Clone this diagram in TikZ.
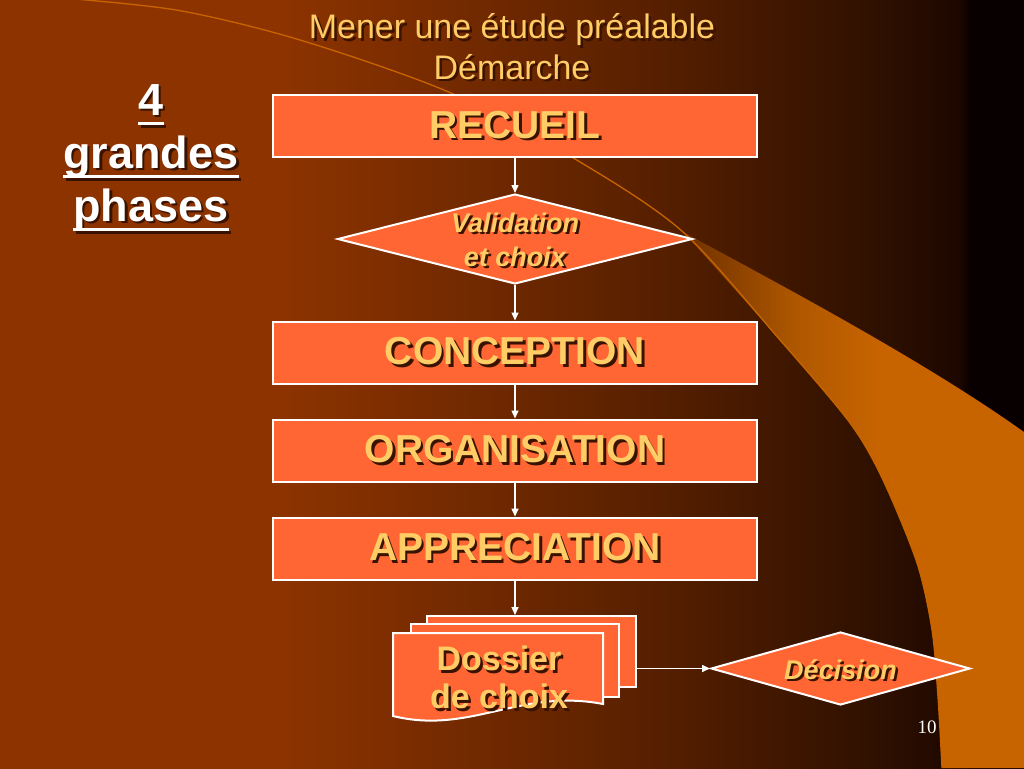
\documentclass[tikz,border=0pt]{standalone}
\usepackage{fontspec}
\setmainfont{Liberation Sans}
\newfontfamily\pagefont{Liberation Serif}
\usetikzlibrary{shapes.geometric,arrows.meta}
\definecolor{bgA}{HTML}{8C3300}
\definecolor{bgB}{HTML}{5E2200}
\definecolor{bgC}{HTML}{2E1000}
\definecolor{bgD}{HTML}{1E0700}
\definecolor{bgE}{HTML}{080000}
\definecolor{orA}{HTML}{6E3000}
\definecolor{orB}{HTML}{B05800}
\definecolor{orC}{HTML}{C86400}
\definecolor{boxfill}{HTML}{FF6633}
\definecolor{gold}{HTML}{FFCC66}
\definecolor{shadowc}{HTML}{3A1200}
\pgfdeclarehorizontalshading{bgshade}{100bp}{color(0bp)=(bgA); color(39bp)=(bgA); color(55bp)=(bgB); color(68bp)=(bgC); color(71.8bp)=(bgD); color(72.4bp)=(bgE); color(100bp)=(bgE)}
\pgfdeclarehorizontalshading{orshade}{100bp}{color(0bp)=(orA); color(25bp)=(orA); color(42bp)=(orB); color(54bp)=(orC); color(100bp)=(orC)}
\newcommand\shd[1]{\leavevmode\rlap{\kern2.5pt\raisebox{-2.5pt}{\textcolor{shadowc}{#1}}}#1}
\newcommand\ulx[1]{\setbox0\hbox{#1}\rlap{\raisebox{-10pt}{\rule{\wd0}{3pt}}}\box0}
\tikzset{
  phasebox/.style={draw=white, line width=2pt, fill=boxfill, minimum width=484pt, minimum height=62pt, inner sep=0pt, text=gold, font=\fontsize{39}{44}\selectfont\bfseries},
  decisionshape/.style={diamond, draw=white, line width=2pt, fill=boxfill, inner sep=0pt},
  dtext/.style={text=gold, align=center, inner sep=0pt, font=\fontsize{27}{34}\selectfont\bfseries\itshape},
  docshape/.style={draw=white, line width=2pt, fill=boxfill, inner sep=0pt},
  dostext/.style={text=gold, align=center, inner sep=0pt, font=\fontsize{34}{38}\selectfont\bfseries},
  flowarrow/.style={draw=white, line width=1.5pt, -{Triangle[length=8pt,width=7pt]}},
  titletext/.style={text=gold, inner sep=0pt, anchor=base, font=\fontsize{34}{40}\selectfont},
  phasetext/.style={text=white, inner sep=0pt, anchor=base, font=\fontsize{45}{52}\selectfont\bfseries}
}
\begin{document}
\begin{tikzpicture}[x=1pt,y=-1pt]
\useasboundingbox (0,0) rectangle (1024,768);
% background
\shade[shading=bgshade] (0,0) rectangle (1024,768);
\shade[shading=orshade] (683,232) .. controls (800,295) and (930,365) .. (1024,432) -- (1024,768) -- (942,768)
  -- plot[smooth] coordinates {(942,768) (938,697) (932,630) (917,563) (883,480) (850,423) (780,340) (683,232)} -- cycle;
\draw[orC, line width=1.3pt] plot[smooth] coordinates {(50,-3) (176,10) (300,40) (451,93) (580,162) (683,232) (780,340) (850,423) (883,480) (917,563) (932,630) (938,697) (942,768)};
% title
\node[titletext] (title1) at (512,39) {\shd{Mener une étude préalable}};
\node[titletext] (title2) at (512,79) {\shd{Démarche}};
% left text
\node[phasetext] (four) at (151,115) {\shd{\ulx{4}}};
\node[phasetext] (grandes) at (151,168) {\shd{\ulx{grandes}}};
\node[phasetext] (phases) at (151,221) {\shd{\ulx{phases}}};
% flow
\node[phasebox] (recueil) at (515,126) {\raisebox{-2pt}{\shd{RECUEIL}}};
\node[decisionshape, minimum width=355pt, minimum height=90pt,
  label={[dtext, yshift=-2pt]center:\shd{Validation}\\\shd{et choix}}] (valid) at (515,239) {};
\node[phasebox] (concept) at (515,352.5) {\raisebox{-2pt}{\shd{CONCEPTION}}};
\node[phasebox] (organ) at (515,450.5) {\raisebox{-2pt}{\shd{ORGANISATION}}};
\node[phasebox] (appr) at (515,548.5) {\raisebox{-2pt}{\shd{APPRECIATION}}};
% dossier stack
\node[docshape, minimum width=209pt, minimum height=71pt] (dos3) at (531.5,651.5) {};
\node[docshape, minimum width=208pt, minimum height=73pt] (dos2) at (515,660.5) {};
\filldraw[docshape] (393,633) -- (603,633) -- (603,704) .. controls (520,688) and (470,735) .. (393,716) -- cycle;
\node[dostext] (dostext) at (499,679) {\shd{Dossier}\\\shd{de choix}};
% decision
\node[decisionshape, minimum width=259pt, minimum height=73pt,
  label={[dtext, yshift=-2pt]center:\shd{Décision}}] (decis) at (840.5,668.5) {};
% arrows
\draw[flowarrow] (recueil.south) -- (valid.north);
\draw[flowarrow] (valid.south) -- (concept.north);
\draw[flowarrow] (concept.south) -- (organ.north);
\draw[flowarrow] (organ.south) -- (appr.north);
\draw[flowarrow] (appr.south) -- (appr.south |- dos3.north);
\draw[flowarrow] (dos3.east |- decis.west) -- (decis.west);
% page number
\node[text=white, inner sep=0pt, font=\pagefont\fontsize{19}{22}\selectfont] (pnum) at (927,727) {10};
\end{tikzpicture}
\end{document}
